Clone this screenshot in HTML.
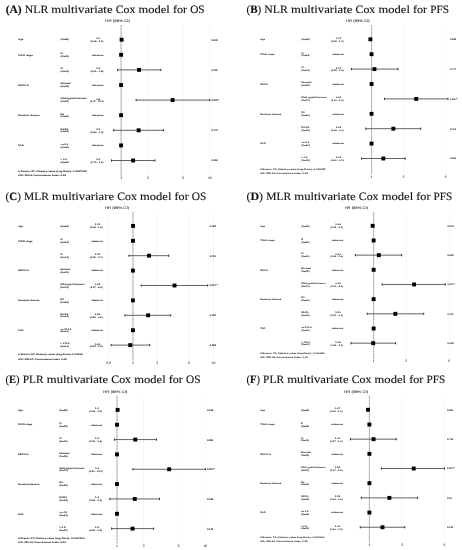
<!DOCTYPE html>
<html lang="en"><head><meta charset="utf-8"><title>Multivariate Cox models</title>
<style>
html,body{margin:0;padding:0;background:#fff;}
body{width:462px;height:550px;overflow:hidden;}
svg{display:block;text-rendering:geometricPrecision;}
text{font-family:"Liberation Sans",sans-serif;}
.title{font-family:"Liberation Serif",serif;font-size:11.2px;fill:#111;stroke:#111;stroke-width:0.12px;}
.b{font-weight:bold;}
.hdr{font-size:3.7px;fill:#222;stroke:#222;stroke-width:0.05px;}
.s{font-size:2.05px;fill:#3a3a3a;stroke:#3a3a3a;stroke-width:0.1px;}
.v{font-weight:normal;}
.axl{font-size:3.4px;fill:#444;stroke:#444;stroke-width:0.08px;}
.pv{font-size:2.5px;fill:#333;stroke:#333;stroke-width:0.12px;}
.lt .s{stroke-width:0.065px;fill:#2a2a2a;stroke:#2a2a2a;}
.lt .pv{stroke-width:0.08px;}
.fn{fill:#222;}
.grid{stroke:#f2f2f2;stroke-width:0.6;}
.dotbg{stroke:#c6c6c6;stroke-width:0.85;}
.dot{stroke:#929292;stroke-width:0.85;stroke-dasharray:0.7 0.75;}
.ci{stroke:#505050;stroke-width:0.9;fill:none;}
.cap{stroke:#222;stroke-width:0.9;fill:none;}
.sq{fill:#000;}
</style></head><body>
<svg width="462" height="550" viewBox="0 0 462 550">
<rect width="462" height="550" fill="#fff"/>
<g id="panelA" class="dk">
<line class="grid" x1="147.94" x2="147.94" y1="25.0" y2="176.3"/>
<line class="grid" x1="183.16" x2="183.16" y1="25.0" y2="176.3"/>
<line class="grid" x1="209.80" x2="209.80" y1="25.0" y2="176.3"/>
<line class="dotbg" x1="121.10" x2="121.10" y1="25.0" y2="176.3"/>
<line class="dot" x1="121.10" x2="121.10" y1="25.0" y2="176.3"/>
<text class="title" x="5.67" y="13.00" textLength="15.95" lengthAdjust="spacingAndGlyphs"><tspan class="b">(A)</tspan></text>
<text class="title" x="24.78" y="13.00" textLength="23.46" lengthAdjust="spacingAndGlyphs">NLR</text>
<text class="title" x="51.39" y="13.00" textLength="61.13" lengthAdjust="spacingAndGlyphs">multivariate</text>
<text class="title" x="115.68" y="13.00" textLength="19.64" lengthAdjust="spacingAndGlyphs">Cox</text>
<text class="title" x="138.48" y="13.00" textLength="31.36" lengthAdjust="spacingAndGlyphs">model</text>
<text class="title" x="172.99" y="13.00" textLength="14.03" lengthAdjust="spacingAndGlyphs">for</text>
<text class="title" x="190.18" y="13.00" textLength="14.45" lengthAdjust="spacingAndGlyphs">OS</text>
<text class="hdr" x="117.70" y="22.20" text-anchor="middle" textLength="24.70" lengthAdjust="spacingAndGlyphs">HR (95% CI)</text>
<text class="s v" transform="translate(18.30 40.44) scale(1.36 1)">Age</text>
<text class="s v" transform="translate(18.30 55.54) scale(1.36 1)">FIGO stage</text>
<text class="s v" transform="translate(18.30 85.74) scale(1.36 1)">BRCA ½</text>
<text class="s v" transform="translate(18.30 115.94) scale(1.36 1)">Residual disease</text>
<text class="s v" transform="translate(18.30 146.14) scale(1.36 1)">NLR</text>
<text class="s" transform="translate(60.50 40.44) scale(1.36 1)">(N=85)</text>
<text class="s" transform="translate(60.50 54.14) scale(1.36 1)">III</text>
<text class="s" transform="translate(60.50 56.94) scale(1.36 1)">(N=54)</text>
<text class="s" transform="translate(60.50 69.24) scale(1.36 1)">IV</text>
<text class="s" transform="translate(60.50 72.04) scale(1.36 1)">(N=31)</text>
<text class="s" transform="translate(60.50 84.34) scale(1.36 1)">Mutated</text>
<text class="s" transform="translate(60.50 87.14) scale(1.36 1)">(N=15)</text>
<text class="s" transform="translate(60.50 99.44) scale(1.36 1)" textLength="19.34" lengthAdjust="spacingAndGlyphs">Wild type/Unknown</text>
<text class="s" transform="translate(60.50 102.24) scale(1.36 1)">(N=70)</text>
<text class="s" transform="translate(60.50 114.54) scale(1.36 1)">R0</text>
<text class="s" transform="translate(60.50 117.34) scale(1.36 1)">(N=69)</text>
<text class="s" transform="translate(60.50 129.64) scale(1.36 1)">R1/R2</text>
<text class="s" transform="translate(60.50 132.44) scale(1.36 1)">(N=16)</text>
<text class="s" transform="translate(60.50 144.74) scale(1.36 1)">&lt;= 0.4</text>
<text class="s" transform="translate(60.50 147.54) scale(1.36 1)">(N=40)</text>
<text class="s" transform="translate(60.50 159.84) scale(1.36 1)">&gt; 0.4</text>
<text class="s" transform="translate(60.50 162.64) scale(1.36 1)">(N=45)</text>
<text class="s" transform="translate(98.20 39.24) scale(1.36 1)" text-anchor="middle">1.0</text>
<text class="s" transform="translate(96.90 42.04) scale(1.36 1)" text-anchor="middle" textLength="9.49" lengthAdjust="spacingAndGlyphs">(0.98 - 1.0)</text>
<text class="pv" x="211.50" y="40.65">0.576</text>
<rect class="sq" x="119.65" y="37.75" width="3.9" height="3.9"/>
<text class="s" transform="translate(97.70 55.64) scale(1.36 1)" text-anchor="middle" textLength="8.53" lengthAdjust="spacingAndGlyphs">reference</text>
<rect class="sq" x="119.15" y="52.85" width="3.9" height="3.9"/>
<text class="s" transform="translate(98.20 69.44) scale(1.36 1)" text-anchor="middle">1.6</text>
<text class="s" transform="translate(96.90 72.24) scale(1.36 1)" text-anchor="middle" textLength="9.49" lengthAdjust="spacingAndGlyphs">(0.91 - 2.8)</text>
<path class="ci" d="M117.68 69.90H160.87"/>
<path class="cap" d="M117.68 68.75v2.3M160.87 68.75v2.3"/>
<text class="pv" x="211.50" y="70.85">0.101</text>
<rect class="sq" x="137.05" y="67.95" width="3.9" height="3.9"/>
<text class="s" transform="translate(97.70 85.84) scale(1.36 1)" text-anchor="middle" textLength="8.53" lengthAdjust="spacingAndGlyphs">reference</text>
<rect class="sq" x="119.15" y="83.05" width="3.9" height="3.9"/>
<text class="s" transform="translate(98.20 99.64) scale(1.36 1)" text-anchor="middle">3.8</text>
<text class="s" transform="translate(96.90 102.44) scale(1.36 1)" text-anchor="middle" textLength="10.22" lengthAdjust="spacingAndGlyphs">(1.47 - 10.0)</text>
<path class="ci" d="M136.11 100.10H209.80"/>
<path class="cap" d="M136.11 98.95v2.3M209.80 98.95v2.3"/>
<text class="pv" x="211.50" y="101.05" textLength="7.6" lengthAdjust="spacingAndGlyphs">0.006 **</text>
<rect class="sq" x="170.66" y="98.15" width="3.9" height="3.9"/>
<text class="s" transform="translate(97.70 116.04) scale(1.36 1)" text-anchor="middle" textLength="8.53" lengthAdjust="spacingAndGlyphs">reference</text>
<rect class="sq" x="119.15" y="113.25" width="3.9" height="3.9"/>
<text class="s" transform="translate(98.20 129.84) scale(1.36 1)" text-anchor="middle">1.6</text>
<text class="s" transform="translate(96.90 132.64) scale(1.36 1)" text-anchor="middle" textLength="9.49" lengthAdjust="spacingAndGlyphs">(0.82 - 3.0)</text>
<path class="ci" d="M113.67 130.30H163.53"/>
<path class="cap" d="M113.67 129.15v2.3M163.53 129.15v2.3"/>
<text class="pv" x="211.50" y="131.25">0.172</text>
<rect class="sq" x="136.69" y="128.35" width="3.9" height="3.9"/>
<text class="s" transform="translate(97.70 146.24) scale(1.36 1)" text-anchor="middle" textLength="8.53" lengthAdjust="spacingAndGlyphs">reference</text>
<rect class="sq" x="119.15" y="143.45" width="3.9" height="3.9"/>
<text class="s" transform="translate(98.20 160.04) scale(1.36 1)" text-anchor="middle">1.4</text>
<text class="s" transform="translate(96.90 162.84) scale(1.36 1)" text-anchor="middle" textLength="9.49" lengthAdjust="spacingAndGlyphs">(0.79 - 2.4)</text>
<path class="ci" d="M111.50 160.50H154.95"/>
<path class="cap" d="M111.50 159.35v2.3M154.95 159.35v2.3"/>
<text class="pv" x="211.50" y="161.45">0.263</text>
<rect class="sq" x="131.17" y="158.55" width="3.9" height="3.9"/>
<text class="axl" x="121.10" y="179.40" text-anchor="middle">1</text>
<text class="axl" x="147.94" y="179.40" text-anchor="middle">2</text>
<text class="axl" x="183.16" y="179.40" text-anchor="middle">5</text>
<text class="axl" x="209.80" y="179.40" text-anchor="middle">10</text>
<text class="s fn" transform="translate(18.30 171.74) scale(1.36 1)" textLength="50.3" lengthAdjust="spacingAndGlyphs"># Events: 57; Global p-value (Log-Rank): 0.0067906</text>
<text class="s fn" transform="translate(18.30 175.54) scale(1.36 1)" textLength="35.1" lengthAdjust="spacingAndGlyphs">AIC: 452.8; Concordance Index: 0.66</text>
</g>
<g id="panelB" class="lt">
<line class="grid" x1="403.39" x2="403.39" y1="25.0" y2="174.2"/>
<line class="grid" x1="445.81" x2="445.81" y1="25.0" y2="174.2"/>
<line class="dotbg" x1="371.55" x2="371.55" y1="25.0" y2="174.2"/>
<line class="dot" x1="371.55" x2="371.55" y1="25.0" y2="174.2"/>
<text class="title" x="246.47" y="13.00" textLength="14.74" lengthAdjust="spacingAndGlyphs">(<tspan class="b">B</tspan>)</text>
<text class="title" x="264.38" y="13.00" textLength="23.53" lengthAdjust="spacingAndGlyphs">NLR</text>
<text class="title" x="291.08" y="13.00" textLength="61.32" lengthAdjust="spacingAndGlyphs">multivariate</text>
<text class="title" x="355.57" y="13.00" textLength="19.70" lengthAdjust="spacingAndGlyphs">Cox</text>
<text class="title" x="378.44" y="13.00" textLength="31.45" lengthAdjust="spacingAndGlyphs">model</text>
<text class="title" x="413.06" y="13.00" textLength="14.08" lengthAdjust="spacingAndGlyphs">for</text>
<text class="title" x="430.31" y="13.00" textLength="18.73" lengthAdjust="spacingAndGlyphs">PFS</text>
<text class="hdr" x="357.90" y="22.20" text-anchor="middle" textLength="23.70" lengthAdjust="spacingAndGlyphs">HR (95% CI)</text>
<text class="s v" transform="translate(260.20 40.04) scale(1.36 1)">Age</text>
<text class="s v" transform="translate(260.20 54.94) scale(1.36 1)">FIGO stage</text>
<text class="s v" transform="translate(260.20 84.74) scale(1.36 1)">BRCA</text>
<text class="s v" transform="translate(260.20 114.54) scale(1.36 1)">Residual disease</text>
<text class="s v" transform="translate(260.20 144.34) scale(1.36 1)">NLR</text>
<text class="s" transform="translate(301.30 40.04) scale(1.36 1)">(N=85)</text>
<text class="s" transform="translate(301.30 53.54) scale(1.36 1)">III</text>
<text class="s" transform="translate(301.30 56.34) scale(1.36 1)">(N=54)</text>
<text class="s" transform="translate(301.30 68.44) scale(1.36 1)">IV</text>
<text class="s" transform="translate(301.30 71.24) scale(1.36 1)">(N=31)</text>
<text class="s" transform="translate(301.30 83.34) scale(1.36 1)">Mutated</text>
<text class="s" transform="translate(301.30 86.14) scale(1.36 1)">(N=15)</text>
<text class="s" transform="translate(301.30 98.24) scale(1.36 1)" textLength="18.68" lengthAdjust="spacingAndGlyphs">Wild type/Unknown</text>
<text class="s" transform="translate(301.30 101.04) scale(1.36 1)">(N=70)</text>
<text class="s" transform="translate(301.30 113.14) scale(1.36 1)">R0</text>
<text class="s" transform="translate(301.30 115.94) scale(1.36 1)">(N=69)</text>
<text class="s" transform="translate(301.30 128.04) scale(1.36 1)">R1/R2</text>
<text class="s" transform="translate(301.30 130.84) scale(1.36 1)">(N=16)</text>
<text class="s" transform="translate(301.30 142.94) scale(1.36 1)">&lt;= 0.4</text>
<text class="s" transform="translate(301.30 145.74) scale(1.36 1)">(N=40)</text>
<text class="s" transform="translate(301.30 157.84) scale(1.36 1)">&gt; 0.4</text>
<text class="s" transform="translate(301.30 160.64) scale(1.36 1)">(N=45)</text>
<text class="s" transform="translate(338.50 38.84) scale(1.36 1)" text-anchor="middle">0.97</text>
<text class="s" transform="translate(337.20 41.64) scale(1.36 1)" text-anchor="middle" textLength="9.49" lengthAdjust="spacingAndGlyphs">(0.95 - 1.0)</text>
<text class="pv" x="450.00" y="40.25">0.856</text>
<rect class="sq" x="368.43" y="37.35" width="3.9" height="3.9"/>
<text class="s" transform="translate(338.00 55.04) scale(1.36 1)" text-anchor="middle" textLength="8.53" lengthAdjust="spacingAndGlyphs">reference</text>
<rect class="sq" x="369.60" y="52.25" width="3.9" height="3.9"/>
<text class="s" transform="translate(338.50 68.64) scale(1.36 1)" text-anchor="middle">1.07</text>
<text class="s" transform="translate(337.20 71.44) scale(1.36 1)" text-anchor="middle" textLength="9.49" lengthAdjust="spacingAndGlyphs">(0.65 - 1.8)</text>
<path class="ci" d="M351.36 69.10H397.99"/>
<path class="cap" d="M351.36 67.95v2.3M397.99 67.95v2.3"/>
<text class="pv" x="450.00" y="70.05">0.777</text>
<rect class="sq" x="372.48" y="67.15" width="3.9" height="3.9"/>
<text class="s" transform="translate(338.00 84.84) scale(1.36 1)" text-anchor="middle" textLength="8.53" lengthAdjust="spacingAndGlyphs">reference</text>
<rect class="sq" x="369.60" y="82.05" width="3.9" height="3.9"/>
<text class="s" transform="translate(338.50 98.44) scale(1.36 1)" text-anchor="middle">2.63</text>
<text class="s" transform="translate(337.20 101.24) scale(1.36 1)" text-anchor="middle" textLength="9.49" lengthAdjust="spacingAndGlyphs">(1.32 - 5.3)</text>
<path class="ci" d="M384.50 98.90H447.98"/>
<path class="cap" d="M384.50 97.75v2.3M447.98 97.75v2.3"/>
<text class="pv" x="450.00" y="99.85" textLength="7.6" lengthAdjust="spacingAndGlyphs">0.006 **</text>
<rect class="sq" x="414.29" y="96.95" width="3.9" height="3.9"/>
<text class="s" transform="translate(338.00 114.64) scale(1.36 1)" text-anchor="middle" textLength="8.53" lengthAdjust="spacingAndGlyphs">reference</text>
<rect class="sq" x="369.60" y="111.85" width="3.9" height="3.9"/>
<text class="s" transform="translate(338.50 128.24) scale(1.36 1)" text-anchor="middle">1.62</text>
<text class="s" transform="translate(337.20 131.04) scale(1.36 1)" text-anchor="middle" textLength="9.49" lengthAdjust="spacingAndGlyphs">(0.88 - 2.9)</text>
<path class="ci" d="M365.80 128.70H420.75"/>
<path class="cap" d="M365.80 127.55v2.3M420.75 127.55v2.3"/>
<text class="pv" x="450.00" y="129.65">0.119</text>
<rect class="sq" x="391.40" y="126.75" width="3.9" height="3.9"/>
<text class="s" transform="translate(338.00 144.44) scale(1.36 1)" text-anchor="middle" textLength="8.53" lengthAdjust="spacingAndGlyphs">reference</text>
<rect class="sq" x="369.60" y="141.65" width="3.9" height="3.9"/>
<text class="s" transform="translate(338.50 158.04) scale(1.36 1)" text-anchor="middle">1.29</text>
<text class="s" transform="translate(337.20 160.84) scale(1.36 1)" text-anchor="middle" textLength="9.49" lengthAdjust="spacingAndGlyphs">(0.80 - 2.1)</text>
<path class="ci" d="M361.54 158.50H405.21"/>
<path class="cap" d="M361.54 157.35v2.3M405.21 157.35v2.3"/>
<text class="pv" x="450.00" y="159.45">0.292</text>
<rect class="sq" x="381.35" y="156.55" width="3.9" height="3.9"/>
<text class="axl" x="371.55" y="177.50" text-anchor="middle">1</text>
<text class="axl" x="403.39" y="177.50" text-anchor="middle">2</text>
<text class="axl" x="445.81" y="177.50" text-anchor="middle">5</text>
<text class="s fn" transform="translate(260.20 169.74) scale(1.36 1)" textLength="48.0" lengthAdjust="spacingAndGlyphs"># Events: 74; Global p-value (Log-Rank): 0.018075</text>
<text class="s fn" transform="translate(260.20 173.74) scale(1.36 1)" textLength="35.1" lengthAdjust="spacingAndGlyphs">AIC: 550.12; Concordance Index: 0.64</text>
</g>
<g id="panelC" class="dk">
<line class="grid" x1="108.51" x2="108.51" y1="212.0" y2="360.7"/>
<line class="grid" x1="157.09" x2="157.09" y1="212.0" y2="360.7"/>
<line class="grid" x1="189.21" x2="189.21" y1="212.0" y2="360.7"/>
<line class="grid" x1="213.50" x2="213.50" y1="212.0" y2="360.7"/>
<line class="dotbg" x1="132.95" x2="132.95" y1="212.0" y2="360.7"/>
<line class="dot" x1="132.95" x2="132.95" y1="212.0" y2="360.7"/>
<text class="title" x="5.47" y="199.50" textLength="15.35" lengthAdjust="spacingAndGlyphs">(<tspan class="b">C</tspan>)</text>
<text class="title" x="23.99" y="199.50" textLength="24.81" lengthAdjust="spacingAndGlyphs">MLR</text>
<text class="title" x="51.97" y="199.50" textLength="62.05" lengthAdjust="spacingAndGlyphs">multivariare</text>
<text class="title" x="117.18" y="199.50" textLength="19.68" lengthAdjust="spacingAndGlyphs">Cox</text>
<text class="title" x="140.03" y="199.50" textLength="31.43" lengthAdjust="spacingAndGlyphs">model</text>
<text class="title" x="174.62" y="199.50" textLength="14.06" lengthAdjust="spacingAndGlyphs">for</text>
<text class="title" x="191.85" y="199.50" textLength="14.48" lengthAdjust="spacingAndGlyphs">OS</text>
<text class="hdr" x="117.00" y="208.70" text-anchor="middle" textLength="24.00" lengthAdjust="spacingAndGlyphs">HR (95% CI)</text>
<text class="s v" transform="translate(18.20 226.64) scale(1.36 1)">Age</text>
<text class="s v" transform="translate(18.20 241.54) scale(1.36 1)">FIGO stage</text>
<text class="s v" transform="translate(18.20 271.34) scale(1.36 1)">BRCA ½</text>
<text class="s v" transform="translate(18.20 301.14) scale(1.36 1)">Residual disease</text>
<text class="s v" transform="translate(18.20 330.94) scale(1.36 1)">PLR</text>
<text class="s" transform="translate(60.30 226.64) scale(1.36 1)">(N=85)</text>
<text class="s" transform="translate(60.30 240.14) scale(1.36 1)">III</text>
<text class="s" transform="translate(60.30 242.94) scale(1.36 1)">(N=54)</text>
<text class="s" transform="translate(60.30 255.04) scale(1.36 1)">IV</text>
<text class="s" transform="translate(60.30 257.84) scale(1.36 1)">(N=31)</text>
<text class="s" transform="translate(60.30 269.94) scale(1.36 1)">Mutated</text>
<text class="s" transform="translate(60.30 272.74) scale(1.36 1)">(N=15)</text>
<text class="s" transform="translate(60.30 284.84) scale(1.36 1)" textLength="17.79" lengthAdjust="spacingAndGlyphs">Wild type/Unknown</text>
<text class="s" transform="translate(60.30 287.64) scale(1.36 1)">(N=70)</text>
<text class="s" transform="translate(60.30 299.74) scale(1.36 1)">R0</text>
<text class="s" transform="translate(60.30 302.54) scale(1.36 1)">(N=69)</text>
<text class="s" transform="translate(60.30 314.64) scale(1.36 1)">R1/R2</text>
<text class="s" transform="translate(60.30 317.44) scale(1.36 1)">(N=16)</text>
<text class="s" transform="translate(60.30 329.54) scale(1.36 1)">&lt;= 172.9</text>
<text class="s" transform="translate(60.30 332.34) scale(1.36 1)">(N=43)</text>
<text class="s" transform="translate(60.30 344.44) scale(1.36 1)">&gt; 172.9</text>
<text class="s" transform="translate(60.30 347.24) scale(1.36 1)">(N=42)</text>
<text class="s" transform="translate(97.50 225.44) scale(1.36 1)" text-anchor="middle">1.01</text>
<text class="s" transform="translate(96.20 228.24) scale(1.36 1)" text-anchor="middle" textLength="9.49" lengthAdjust="spacingAndGlyphs">(0.98 - 1.0)</text>
<text class="pv" x="209.80" y="226.85">0.481</text>
<rect class="sq" x="131.14" y="223.95" width="3.9" height="3.9"/>
<text class="s" transform="translate(97.00 241.64) scale(1.36 1)" text-anchor="middle" textLength="8.53" lengthAdjust="spacingAndGlyphs">reference</text>
<rect class="sq" x="131.00" y="238.85" width="3.9" height="3.9"/>
<text class="s" transform="translate(97.50 255.24) scale(1.36 1)" text-anchor="middle">1.57</text>
<text class="s" transform="translate(96.20 258.04) scale(1.36 1)" text-anchor="middle" textLength="9.49" lengthAdjust="spacingAndGlyphs">(0.90 - 2.7)</text>
<path class="ci" d="M128.99 255.70H168.63"/>
<path class="cap" d="M128.99 254.55v2.3M168.63 254.55v2.3"/>
<text class="pv" x="209.80" y="256.65">0.113</text>
<rect class="sq" x="147.10" y="253.75" width="3.9" height="3.9"/>
<text class="s" transform="translate(97.00 271.44) scale(1.36 1)" text-anchor="middle" textLength="8.53" lengthAdjust="spacingAndGlyphs">reference</text>
<rect class="sq" x="131.00" y="268.65" width="3.9" height="3.9"/>
<text class="s" transform="translate(97.50 285.04) scale(1.36 1)" text-anchor="middle">3.25</text>
<text class="s" transform="translate(96.20 287.84) scale(1.36 1)" text-anchor="middle" textLength="9.49" lengthAdjust="spacingAndGlyphs">(1.27 - 8.4)</text>
<path class="ci" d="M141.18 285.50H207.68"/>
<path class="cap" d="M141.18 284.35v2.3M207.68 284.35v2.3"/>
<text class="pv" x="209.80" y="286.45" textLength="7.6" lengthAdjust="spacingAndGlyphs">0.014 *</text>
<rect class="sq" x="172.59" y="283.55" width="3.9" height="3.9"/>
<text class="s" transform="translate(97.00 301.24) scale(1.36 1)" text-anchor="middle" textLength="8.53" lengthAdjust="spacingAndGlyphs">reference</text>
<rect class="sq" x="131.00" y="298.45" width="3.9" height="3.9"/>
<text class="s" transform="translate(97.50 314.84) scale(1.36 1)" text-anchor="middle">1.52</text>
<text class="s" transform="translate(96.20 317.64) scale(1.36 1)" text-anchor="middle" textLength="9.49" lengthAdjust="spacingAndGlyphs">(0.80 - 2.9)</text>
<path class="ci" d="M124.98 315.30H170.71"/>
<path class="cap" d="M124.98 314.15v2.3M170.71 314.15v2.3"/>
<text class="pv" x="209.80" y="316.25">0.201</text>
<rect class="sq" x="146.21" y="313.35" width="3.9" height="3.9"/>
<text class="s" transform="translate(97.00 331.04) scale(1.36 1)" text-anchor="middle" textLength="8.53" lengthAdjust="spacingAndGlyphs">reference</text>
<rect class="sq" x="131.00" y="328.25" width="3.9" height="3.9"/>
<text class="s" transform="translate(97.50 344.64) scale(1.36 1)" text-anchor="middle">0.93</text>
<text class="s" transform="translate(96.20 347.44) scale(1.36 1)" text-anchor="middle" textLength="9.49" lengthAdjust="spacingAndGlyphs">(0.54 - 1.6)</text>
<path class="ci" d="M111.20 345.10H149.71"/>
<path class="cap" d="M111.20 343.95v2.3M149.71 343.95v2.3"/>
<text class="pv" x="209.80" y="346.05">0.803</text>
<rect class="sq" x="128.31" y="343.15" width="3.9" height="3.9"/>
<text class="axl" x="108.51" y="363.80" text-anchor="middle">0.5</text>
<text class="axl" x="132.95" y="363.80" text-anchor="middle">1</text>
<text class="axl" x="157.09" y="363.80" text-anchor="middle">2</text>
<text class="axl" x="189.21" y="363.80" text-anchor="middle">5</text>
<text class="axl" x="213.50" y="363.80" text-anchor="middle">10</text>
<text class="s fn" transform="translate(18.20 355.44) scale(1.36 1)" textLength="47.5" lengthAdjust="spacingAndGlyphs"># Events: 57; Global p-value (Log-Rank): 0.01198</text>
<text class="s fn" transform="translate(18.20 359.94) scale(1.36 1)" textLength="35.7" lengthAdjust="spacingAndGlyphs">AIC: 455.97; Concordance Index: 0.65</text>
</g>
<g id="panelD" class="lt">
<line class="grid" x1="406.10" x2="406.10" y1="212.0" y2="359.0"/>
<line class="grid" x1="449.20" x2="449.20" y1="212.0" y2="359.0"/>
<line class="dotbg" x1="373.65" x2="373.65" y1="212.0" y2="359.0"/>
<line class="dot" x1="373.65" x2="373.65" y1="212.0" y2="359.0"/>
<text class="title" x="246.47" y="199.50" textLength="16.63" lengthAdjust="spacingAndGlyphs">(<tspan class="b">D</tspan>)</text>
<text class="title" x="266.27" y="199.50" textLength="24.85" lengthAdjust="spacingAndGlyphs">MLR</text>
<text class="title" x="294.29" y="199.50" textLength="61.36" lengthAdjust="spacingAndGlyphs">multivariate</text>
<text class="title" x="358.82" y="199.50" textLength="19.71" lengthAdjust="spacingAndGlyphs">Cox</text>
<text class="title" x="381.70" y="199.50" textLength="31.47" lengthAdjust="spacingAndGlyphs">model</text>
<text class="title" x="416.34" y="199.50" textLength="14.08" lengthAdjust="spacingAndGlyphs">for</text>
<text class="title" x="433.59" y="199.50" textLength="18.74" lengthAdjust="spacingAndGlyphs">PFS</text>
<text class="hdr" x="356.30" y="208.70" text-anchor="middle" textLength="23.30" lengthAdjust="spacingAndGlyphs">HR (95% CI)</text>
<text class="s v" transform="translate(260.20 226.54) scale(1.36 1)">Age</text>
<text class="s v" transform="translate(260.20 241.21) scale(1.36 1)">FIGO stage</text>
<text class="s v" transform="translate(260.20 270.55) scale(1.36 1)">BRCA</text>
<text class="s v" transform="translate(260.20 299.89) scale(1.36 1)">Residual disease</text>
<text class="s v" transform="translate(260.20 329.23) scale(1.36 1)">PLR</text>
<text class="s" transform="translate(301.00 226.54) scale(1.36 1)">(N=85)</text>
<text class="s" transform="translate(301.00 239.81) scale(1.36 1)">III</text>
<text class="s" transform="translate(301.00 242.61) scale(1.36 1)">(N=54)</text>
<text class="s" transform="translate(301.00 254.48) scale(1.36 1)">IV</text>
<text class="s" transform="translate(301.00 257.28) scale(1.36 1)">(N=31)</text>
<text class="s" transform="translate(301.00 269.15) scale(1.36 1)">Mutated</text>
<text class="s" transform="translate(301.00 271.95) scale(1.36 1)">(N=15)</text>
<text class="s" transform="translate(301.00 283.82) scale(1.36 1)" textLength="18.01" lengthAdjust="spacingAndGlyphs">Wild type/Unknown</text>
<text class="s" transform="translate(301.00 286.62) scale(1.36 1)">(N=70)</text>
<text class="s" transform="translate(301.00 298.49) scale(1.36 1)">R0</text>
<text class="s" transform="translate(301.00 301.29) scale(1.36 1)">(N=69)</text>
<text class="s" transform="translate(301.00 313.16) scale(1.36 1)">R1/R2</text>
<text class="s" transform="translate(301.00 315.96) scale(1.36 1)">(N=16)</text>
<text class="s" transform="translate(301.00 327.83) scale(1.36 1)">&lt;= 172.9</text>
<text class="s" transform="translate(301.00 330.63) scale(1.36 1)">(N=43)</text>
<text class="s" transform="translate(301.00 342.50) scale(1.36 1)">&gt; 172.9</text>
<text class="s" transform="translate(301.00 345.30) scale(1.36 1)">(N=42)</text>
<text class="s" transform="translate(338.00 225.34) scale(1.36 1)" text-anchor="middle">0.98</text>
<text class="s" transform="translate(336.70 228.14) scale(1.36 1)" text-anchor="middle" textLength="9.49" lengthAdjust="spacingAndGlyphs">(0.95 - 1.0)</text>
<text class="pv" x="447.50" y="226.75">0.876</text>
<rect class="sq" x="370.70" y="223.85" width="3.9" height="3.9"/>
<text class="s" transform="translate(337.50 241.31) scale(1.36 1)" text-anchor="middle" textLength="8.53" lengthAdjust="spacingAndGlyphs">reference</text>
<rect class="sq" x="371.70" y="238.52" width="3.9" height="3.9"/>
<text class="s" transform="translate(338.00 254.68) scale(1.36 1)" text-anchor="middle">1.13</text>
<text class="s" transform="translate(336.70 257.48) scale(1.36 1)" text-anchor="middle" textLength="9.49" lengthAdjust="spacingAndGlyphs">(0.68 - 1.8)</text>
<path class="ci" d="M355.36 255.14H401.67"/>
<path class="cap" d="M355.36 253.99v2.3M401.67 253.99v2.3"/>
<text class="pv" x="447.50" y="256.09">0.662</text>
<rect class="sq" x="376.88" y="253.19" width="3.9" height="3.9"/>
<text class="s" transform="translate(337.50 270.65) scale(1.36 1)" text-anchor="middle" textLength="8.53" lengthAdjust="spacingAndGlyphs">reference</text>
<rect class="sq" x="371.70" y="267.86" width="3.9" height="3.9"/>
<text class="s" transform="translate(338.00 284.02) scale(1.36 1)" text-anchor="middle">2.36</text>
<text class="s" transform="translate(336.70 286.82) scale(1.36 1)" text-anchor="middle" textLength="9.49" lengthAdjust="spacingAndGlyphs">(1.20 - 4.6)</text>
<path class="ci" d="M382.08 284.48H445.28"/>
<path class="cap" d="M382.08 283.33v2.3M445.28 283.33v2.3"/>
<text class="pv" x="447.50" y="285.43" textLength="7.6" lengthAdjust="spacingAndGlyphs">0.013 *</text>
<rect class="sq" x="412.14" y="282.53" width="3.9" height="3.9"/>
<text class="s" transform="translate(337.50 299.99) scale(1.36 1)" text-anchor="middle" textLength="8.53" lengthAdjust="spacingAndGlyphs">reference</text>
<rect class="sq" x="371.70" y="297.20" width="3.9" height="3.9"/>
<text class="s" transform="translate(338.00 313.36) scale(1.36 1)" text-anchor="middle">1.59</text>
<text class="s" transform="translate(336.70 316.16) scale(1.36 1)" text-anchor="middle" textLength="9.49" lengthAdjust="spacingAndGlyphs">(0.87 - 2.9)</text>
<path class="ci" d="M367.22 313.82H423.74"/>
<path class="cap" d="M367.22 312.67v2.3M423.74 312.67v2.3"/>
<text class="pv" x="447.50" y="314.77">0.131</text>
<rect class="sq" x="393.36" y="311.87" width="3.9" height="3.9"/>
<text class="s" transform="translate(337.50 329.33) scale(1.36 1)" text-anchor="middle" textLength="8.53" lengthAdjust="spacingAndGlyphs">reference</text>
<rect class="sq" x="371.70" y="326.54" width="3.9" height="3.9"/>
<text class="s" transform="translate(338.00 342.70) scale(1.36 1)" text-anchor="middle">0.98</text>
<text class="s" transform="translate(336.70 345.50) scale(1.36 1)" text-anchor="middle" textLength="9.49" lengthAdjust="spacingAndGlyphs">(0.61 - 1.6)</text>
<path class="ci" d="M351.02 343.16H395.61"/>
<path class="cap" d="M351.02 342.01v2.3M395.61 342.01v2.3"/>
<text class="pv" x="447.50" y="344.11">0.948</text>
<rect class="sq" x="371.23" y="341.21" width="3.9" height="3.9"/>
<text class="axl" x="373.65" y="361.80" text-anchor="middle">1</text>
<text class="axl" x="406.10" y="361.80" text-anchor="middle">2</text>
<text class="axl" x="449.20" y="361.80" text-anchor="middle">5</text>
<text class="s fn" transform="translate(260.20 353.74) scale(1.36 1)" textLength="47.4" lengthAdjust="spacingAndGlyphs"># Events: 74; Global p-value (Log-Rank): 0.029813</text>
<text class="s fn" transform="translate(260.20 357.94) scale(1.36 1)" textLength="35.1" lengthAdjust="spacingAndGlyphs">AIC: 551.25; Concordance Index: 0.63</text>
</g>
<g id="panelE" class="dk">
<line class="grid" x1="143.58" x2="143.58" y1="395.8" y2="543.7"/>
<line class="grid" x1="178.72" x2="178.72" y1="395.8" y2="543.7"/>
<line class="grid" x1="205.30" x2="205.30" y1="395.8" y2="543.7"/>
<line class="dotbg" x1="117.00" x2="117.00" y1="395.8" y2="543.7"/>
<line class="dot" x1="117.00" x2="117.00" y1="395.8" y2="543.7"/>
<text class="title" x="5.47" y="383.30" textLength="14.10" lengthAdjust="spacingAndGlyphs">(<tspan class="b">E</tspan>)</text>
<text class="title" x="22.74" y="383.30" textLength="20.96" lengthAdjust="spacingAndGlyphs">PLR</text>
<text class="title" x="46.87" y="383.30" textLength="61.30" lengthAdjust="spacingAndGlyphs">multivariate</text>
<text class="title" x="111.34" y="383.30" textLength="19.69" lengthAdjust="spacingAndGlyphs">Cox</text>
<text class="title" x="134.19" y="383.30" textLength="31.44" lengthAdjust="spacingAndGlyphs">model</text>
<text class="title" x="168.80" y="383.30" textLength="14.07" lengthAdjust="spacingAndGlyphs">for</text>
<text class="title" x="186.04" y="383.30" textLength="14.49" lengthAdjust="spacingAndGlyphs">OS</text>
<text class="hdr" x="115.30" y="392.70" text-anchor="middle" textLength="24.00" lengthAdjust="spacingAndGlyphs">HR (95% CI)</text>
<text class="s v" transform="translate(18.00 410.64) scale(1.36 1)">Age</text>
<text class="s v" transform="translate(18.00 425.48) scale(1.36 1)">FIGO stage</text>
<text class="s v" transform="translate(18.00 455.16) scale(1.36 1)">BRCA ½</text>
<text class="s v" transform="translate(18.00 484.84) scale(1.36 1)">Residual disease</text>
<text class="s v" transform="translate(18.00 514.52) scale(1.36 1)">NLR</text>
<text class="s" transform="translate(59.20 410.64) scale(1.36 1)">(N=85)</text>
<text class="s" transform="translate(59.20 424.08) scale(1.36 1)">III</text>
<text class="s" transform="translate(59.20 426.88) scale(1.36 1)">(N=54)</text>
<text class="s" transform="translate(59.20 438.92) scale(1.36 1)">IV</text>
<text class="s" transform="translate(59.20 441.72) scale(1.36 1)">(N=31)</text>
<text class="s" transform="translate(59.20 453.76) scale(1.36 1)">Mutated</text>
<text class="s" transform="translate(59.20 456.56) scale(1.36 1)">(N=15)</text>
<text class="s" transform="translate(59.20 468.60) scale(1.36 1)" textLength="18.60" lengthAdjust="spacingAndGlyphs">Wild type/Unknown</text>
<text class="s" transform="translate(59.20 471.40) scale(1.36 1)">(N=70)</text>
<text class="s" transform="translate(59.20 483.44) scale(1.36 1)">R0</text>
<text class="s" transform="translate(59.20 486.24) scale(1.36 1)">(N=69)</text>
<text class="s" transform="translate(59.20 498.28) scale(1.36 1)">R1/R2</text>
<text class="s" transform="translate(59.20 501.08) scale(1.36 1)">(N=16)</text>
<text class="s" transform="translate(59.20 513.12) scale(1.36 1)">&lt;= 4.5</text>
<text class="s" transform="translate(59.20 515.92) scale(1.36 1)">(N=44)</text>
<text class="s" transform="translate(59.20 527.96) scale(1.36 1)">&gt; 4.5</text>
<text class="s" transform="translate(59.20 530.76) scale(1.36 1)">(N=41)</text>
<text class="s" transform="translate(97.00 409.44) scale(1.36 1)" text-anchor="middle">1.0</text>
<text class="s" transform="translate(95.70 412.24) scale(1.36 1)" text-anchor="middle" textLength="9.49" lengthAdjust="spacingAndGlyphs">(0.98 - 1.0)</text>
<text class="pv" x="207.00" y="410.85">0.448</text>
<rect class="sq" x="115.66" y="407.95" width="3.9" height="3.9"/>
<text class="s" transform="translate(96.50 425.58) scale(1.36 1)" text-anchor="middle" textLength="8.53" lengthAdjust="spacingAndGlyphs">reference</text>
<rect class="sq" x="115.05" y="422.79" width="3.9" height="3.9"/>
<text class="s" transform="translate(97.00 439.12) scale(1.36 1)" text-anchor="middle">1.6</text>
<text class="s" transform="translate(95.70 441.92) scale(1.36 1)" text-anchor="middle" textLength="9.49" lengthAdjust="spacingAndGlyphs">(0.92 - 2.8)</text>
<path class="ci" d="M114.50 439.58H156.48"/>
<path class="cap" d="M114.50 438.43v2.3M156.48 438.43v2.3"/>
<text class="pv" x="207.00" y="440.53">0.093</text>
<rect class="sq" x="133.31" y="437.63" width="3.9" height="3.9"/>
<text class="s" transform="translate(96.50 455.26) scale(1.36 1)" text-anchor="middle" textLength="8.53" lengthAdjust="spacingAndGlyphs">reference</text>
<rect class="sq" x="115.05" y="452.47" width="3.9" height="3.9"/>
<text class="s" transform="translate(97.00 468.80) scale(1.36 1)" text-anchor="middle">3.9</text>
<text class="s" transform="translate(95.70 471.60) scale(1.36 1)" text-anchor="middle" textLength="10.22" lengthAdjust="spacingAndGlyphs">(1.51 - 10.0)</text>
<path class="ci" d="M132.80 469.26H205.30"/>
<path class="cap" d="M132.80 468.11v2.3M205.30 468.11v2.3"/>
<text class="pv" x="207.00" y="470.21" textLength="7.6" lengthAdjust="spacingAndGlyphs">0.005 **</text>
<rect class="sq" x="167.24" y="467.31" width="3.9" height="3.9"/>
<text class="s" transform="translate(96.50 484.94) scale(1.36 1)" text-anchor="middle" textLength="8.53" lengthAdjust="spacingAndGlyphs">reference</text>
<rect class="sq" x="115.05" y="482.15" width="3.9" height="3.9"/>
<text class="s" transform="translate(97.00 498.48) scale(1.36 1)" text-anchor="middle">1.6</text>
<text class="s" transform="translate(95.70 501.28) scale(1.36 1)" text-anchor="middle" textLength="9.49" lengthAdjust="spacingAndGlyphs">(0.83 - 3.0)</text>
<path class="ci" d="M109.85 498.94H159.51"/>
<path class="cap" d="M109.85 497.79v2.3M159.51 497.79v2.3"/>
<text class="pv" x="207.00" y="499.89">0.166</text>
<rect class="sq" x="132.83" y="496.99" width="3.9" height="3.9"/>
<text class="s" transform="translate(96.50 514.62) scale(1.36 1)" text-anchor="middle" textLength="8.53" lengthAdjust="spacingAndGlyphs">reference</text>
<rect class="sq" x="115.05" y="511.83" width="3.9" height="3.9"/>
<text class="s" transform="translate(97.00 528.16) scale(1.36 1)" text-anchor="middle">1.5</text>
<text class="s" transform="translate(95.70 530.96) scale(1.36 1)" text-anchor="middle" textLength="9.49" lengthAdjust="spacingAndGlyphs">(0.87 - 2.6)</text>
<path class="ci" d="M111.66 528.62H153.64"/>
<path class="cap" d="M111.66 527.47v2.3M153.64 527.47v2.3"/>
<text class="pv" x="207.00" y="529.57">0.149</text>
<rect class="sq" x="130.60" y="526.67" width="3.9" height="3.9"/>
<text class="axl" x="117.00" y="546.80" text-anchor="middle">1</text>
<text class="axl" x="143.58" y="546.80" text-anchor="middle">2</text>
<text class="axl" x="178.72" y="546.80" text-anchor="middle">5</text>
<text class="axl" x="205.30" y="546.80" text-anchor="middle">10</text>
<text class="s fn" transform="translate(18.00 538.94) scale(1.36 1)" textLength="48.9" lengthAdjust="spacingAndGlyphs"># Events: 57; Global p-value (Log-Rank): 0.0047533</text>
<text class="s fn" transform="translate(18.00 543.44) scale(1.36 1)" textLength="35.1" lengthAdjust="spacingAndGlyphs">AIC: 451.99; Concordance Index: 0.66</text>
</g>
<g id="panelF" class="lt">
<line class="grid" x1="402.09" x2="402.09" y1="395.5" y2="542.9"/>
<line class="grid" x1="444.51" x2="444.51" y1="395.5" y2="542.9"/>
<line class="dotbg" x1="369.40" x2="369.40" y1="395.5" y2="542.9"/>
<line class="dot" x1="369.40" x2="369.40" y1="395.5" y2="542.9"/>
<text class="title" x="246.47" y="383.30" textLength="13.48" lengthAdjust="spacingAndGlyphs">(<tspan class="b">F</tspan>)</text>
<text class="title" x="263.12" y="383.30" textLength="20.96" lengthAdjust="spacingAndGlyphs">PLR</text>
<text class="title" x="287.24" y="383.30" textLength="61.30" lengthAdjust="spacingAndGlyphs">multivariate</text>
<text class="title" x="351.71" y="383.30" textLength="19.69" lengthAdjust="spacingAndGlyphs">Cox</text>
<text class="title" x="374.57" y="383.30" textLength="31.44" lengthAdjust="spacingAndGlyphs">model</text>
<text class="title" x="409.18" y="383.30" textLength="14.07" lengthAdjust="spacingAndGlyphs">for</text>
<text class="title" x="426.41" y="383.30" textLength="18.72" lengthAdjust="spacingAndGlyphs">PFS</text>
<text class="hdr" x="356.20" y="392.70" text-anchor="middle" textLength="23.70" lengthAdjust="spacingAndGlyphs">HR (95% CI)</text>
<text class="s v" transform="translate(260.20 410.54) scale(1.36 1)">Age</text>
<text class="s v" transform="translate(260.20 425.22) scale(1.36 1)">FIGO stage</text>
<text class="s v" transform="translate(260.20 454.58) scale(1.36 1)">BRCA ½</text>
<text class="s v" transform="translate(260.20 483.94) scale(1.36 1)">Residual disease</text>
<text class="s v" transform="translate(260.20 513.30) scale(1.36 1)">NLR</text>
<text class="s" transform="translate(300.70 410.54) scale(1.36 1)">(N=85)</text>
<text class="s" transform="translate(300.70 423.82) scale(1.36 1)">III</text>
<text class="s" transform="translate(300.70 426.62) scale(1.36 1)">(N=54)</text>
<text class="s" transform="translate(300.70 438.50) scale(1.36 1)">IV</text>
<text class="s" transform="translate(300.70 441.30) scale(1.36 1)">(N=31)</text>
<text class="s" transform="translate(300.70 453.18) scale(1.36 1)">Mutated</text>
<text class="s" transform="translate(300.70 455.98) scale(1.36 1)">(N=15)</text>
<text class="s" transform="translate(300.70 467.86) scale(1.36 1)" textLength="18.24" lengthAdjust="spacingAndGlyphs">Wild type/Unknown</text>
<text class="s" transform="translate(300.70 470.66) scale(1.36 1)">(N=70)</text>
<text class="s" transform="translate(300.70 482.54) scale(1.36 1)">R0</text>
<text class="s" transform="translate(300.70 485.34) scale(1.36 1)">(N=69)</text>
<text class="s" transform="translate(300.70 497.22) scale(1.36 1)">R1/R2</text>
<text class="s" transform="translate(300.70 500.02) scale(1.36 1)">(N=16)</text>
<text class="s" transform="translate(300.70 511.90) scale(1.36 1)">&lt;= 4.5</text>
<text class="s" transform="translate(300.70 514.70) scale(1.36 1)">(N=44)</text>
<text class="s" transform="translate(300.70 526.58) scale(1.36 1)">&gt; 4.5</text>
<text class="s" transform="translate(300.70 529.38) scale(1.36 1)">(N=41)</text>
<text class="s" transform="translate(337.50 409.34) scale(1.36 1)" text-anchor="middle">0.97</text>
<text class="s" transform="translate(336.20 412.14) scale(1.36 1)" text-anchor="middle" textLength="9.49" lengthAdjust="spacingAndGlyphs">(0.95 - 1.0)</text>
<text class="pv" x="447.00" y="410.75">0.853</text>
<rect class="sq" x="366.04" y="407.85" width="3.9" height="3.9"/>
<text class="s" transform="translate(337.00 425.32) scale(1.36 1)" text-anchor="middle" textLength="8.53" lengthAdjust="spacingAndGlyphs">reference</text>
<rect class="sq" x="367.45" y="422.53" width="3.9" height="3.9"/>
<text class="s" transform="translate(337.50 438.70) scale(1.36 1)" text-anchor="middle">1.09</text>
<text class="s" transform="translate(336.20 441.50) scale(1.36 1)" text-anchor="middle" textLength="9.49" lengthAdjust="spacingAndGlyphs">(0.67 - 1.8)</text>
<path class="ci" d="M350.48 439.16H396.17"/>
<path class="cap" d="M350.48 438.01v2.3M396.17 438.01v2.3"/>
<text class="pv" x="447.00" y="440.11">0.729</text>
<rect class="sq" x="371.61" y="437.21" width="3.9" height="3.9"/>
<text class="s" transform="translate(337.00 454.68) scale(1.36 1)" text-anchor="middle" textLength="8.53" lengthAdjust="spacingAndGlyphs">reference</text>
<rect class="sq" x="367.45" y="451.89" width="3.9" height="3.9"/>
<text class="s" transform="translate(337.50 468.06) scale(1.36 1)" text-anchor="middle">2.58</text>
<text class="s" transform="translate(336.20 470.86) scale(1.36 1)" text-anchor="middle" textLength="9.49" lengthAdjust="spacingAndGlyphs">(1.27 - 5.1)</text>
<path class="ci" d="M381.43 468.52H444.51"/>
<path class="cap" d="M381.43 467.37v2.3M444.51 467.37v2.3"/>
<text class="pv" x="447.00" y="469.47" textLength="7.6" lengthAdjust="spacingAndGlyphs">0.008 **</text>
<rect class="sq" x="411.75" y="466.57" width="3.9" height="3.9"/>
<text class="s" transform="translate(337.00 484.04) scale(1.36 1)" text-anchor="middle" textLength="8.53" lengthAdjust="spacingAndGlyphs">reference</text>
<rect class="sq" x="367.45" y="481.25" width="3.9" height="3.9"/>
<text class="s" transform="translate(337.50 497.42) scale(1.36 1)" text-anchor="middle">1.54</text>
<text class="s" transform="translate(336.20 500.22) scale(1.36 1)" text-anchor="middle" textLength="9.49" lengthAdjust="spacingAndGlyphs">(0.84 - 2.8)</text>
<path class="ci" d="M361.37 497.88H417.50"/>
<path class="cap" d="M361.37 496.73v2.3M417.50 496.73v2.3"/>
<text class="pv" x="447.00" y="498.83">0.16</text>
<rect class="sq" x="387.43" y="495.93" width="3.9" height="3.9"/>
<text class="s" transform="translate(337.00 513.40) scale(1.36 1)" text-anchor="middle" textLength="8.53" lengthAdjust="spacingAndGlyphs">reference</text>
<rect class="sq" x="367.45" y="510.61" width="3.9" height="3.9"/>
<text class="s" transform="translate(337.50 526.78) scale(1.36 1)" text-anchor="middle">1.32</text>
<text class="s" transform="translate(336.20 529.58) scale(1.36 1)" text-anchor="middle" textLength="9.49" lengthAdjust="spacingAndGlyphs">(0.83 - 2.1)</text>
<path class="ci" d="M360.24 527.24H404.79"/>
<path class="cap" d="M360.24 526.09v2.3M404.79 526.09v2.3"/>
<text class="pv" x="447.00" y="528.19">0.245</text>
<rect class="sq" x="380.55" y="525.29" width="3.9" height="3.9"/>
<text class="axl" x="369.40" y="545.60" text-anchor="middle">1</text>
<text class="axl" x="402.09" y="545.60" text-anchor="middle">2</text>
<text class="axl" x="444.51" y="545.60" text-anchor="middle">5</text>
<text class="s fn" transform="translate(260.20 537.94) scale(1.36 1)" textLength="47.1" lengthAdjust="spacingAndGlyphs"># Events: 74; Global p-value (Log-Rank): 0.019382</text>
<text class="s fn" transform="translate(260.20 541.74) scale(1.36 1)" textLength="34.9" lengthAdjust="spacingAndGlyphs">AIC: 549.89; Concordance Index: 0.65</text>
</g>
</svg>
</body></html>
